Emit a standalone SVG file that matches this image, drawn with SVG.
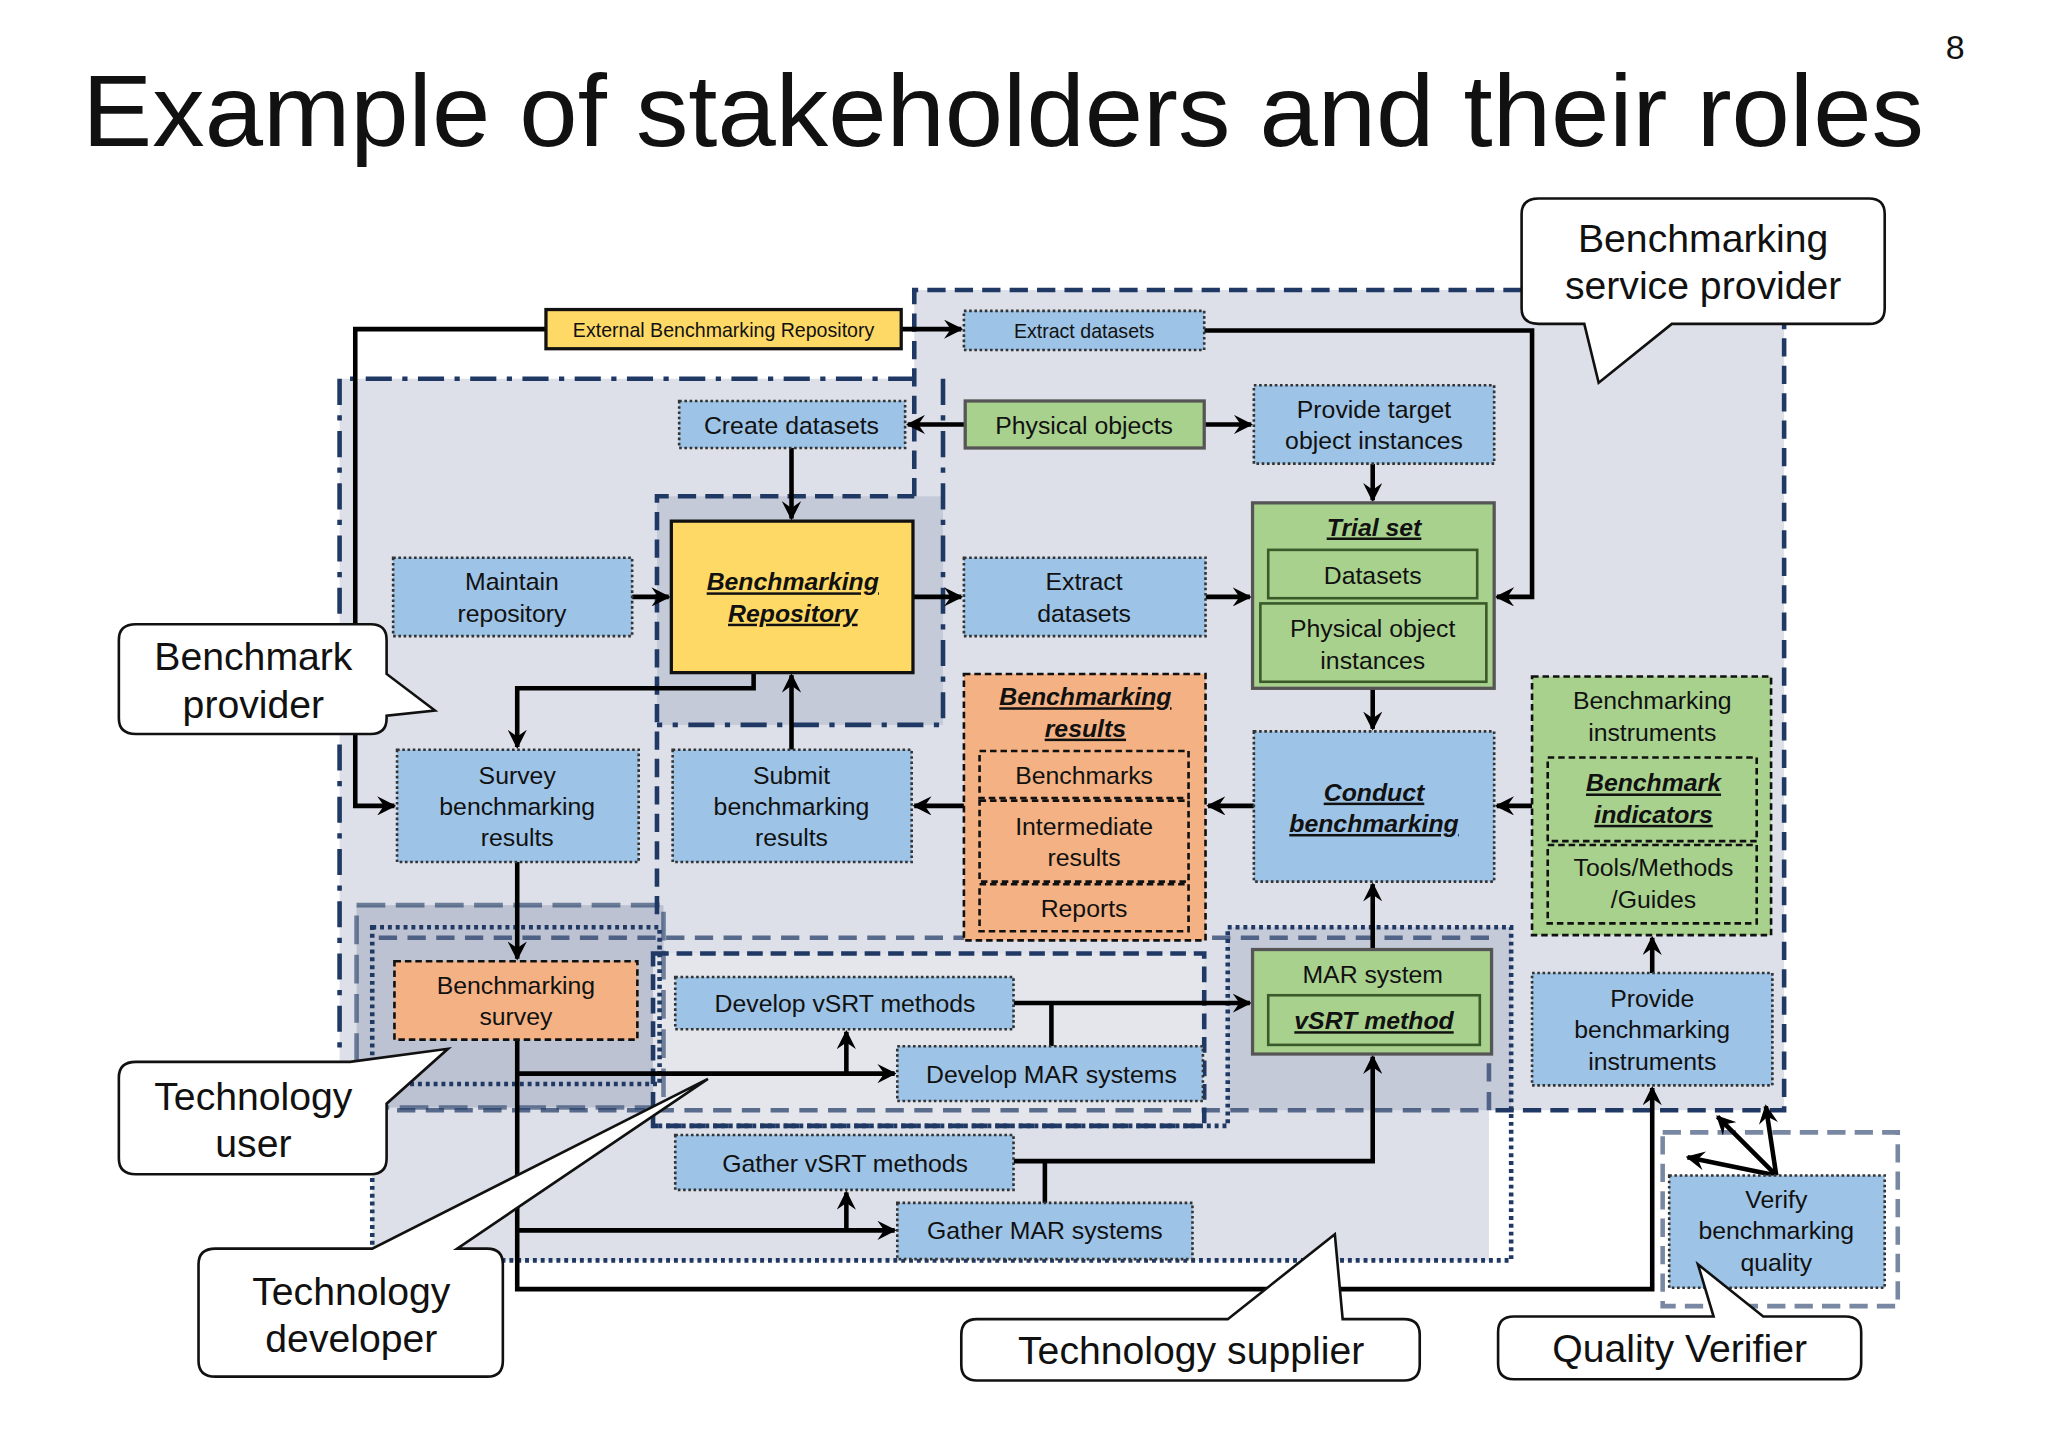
<svg xmlns="http://www.w3.org/2000/svg" width="2048" height="1448" viewBox="0 0 2048 1448">
<defs>
<marker id="ah" viewBox="0 0 10 10" refX="9" refY="5" markerWidth="4.2" markerHeight="4.2" orient="auto" markerUnits="strokeWidth">
<path d="M0,0 L10,5 L0,10 L3.5,5 z" fill="#000"/>
</marker>
<style>
text{font-family:"Liberation Sans",Arial,sans-serif;fill:#111;text-anchor:middle}
.b{fill:#9dc3e6;stroke:#333;stroke-width:2;stroke-dasharray:2 2}
.y{fill:#ffd966;stroke:#111;stroke-width:2.5}
.g{fill:#a9d18e;stroke:#555;stroke-width:2.5}
.gi{fill:#a9d18e;stroke:#3a5a2a;stroke-width:2}
.gd{fill:#a9d18e;stroke:#111;stroke-width:2;stroke-dasharray:5 3}
.o{fill:#f4b183;stroke:#111;stroke-width:2;stroke-dasharray:5 3}
.t{font-size:19px}
.s{font-size:15px}
.bi{font-weight:bold;font-style:italic;text-decoration:underline}
.c{fill:none;stroke:#000;stroke-width:3.5}
.ca{fill:none;stroke:#000;stroke-width:3.5;marker-end:url(#ah)}
.co{fill:#fff;stroke:#111;stroke-width:2}
.ct{font-size:30px}
.reg{fill:none;stroke:#1f3864;stroke-width:3.5}
</style>
</defs>
<rect width="2048" height="1448" fill="#fff"/>
<g transform="scale(1.3061)">
<text x="768" y="112" style="font-size:78px" textLength="1410" lengthAdjust="spacingAndGlyphs">Example of stakeholders and their roles</text>
<text x="1497" y="45" style="font-size:26px">8</text>

<g id="regions">
<path d="M700,222 H1366 V850 H1140 V965 H285 V848 H260 V290 H700 Z" fill="#dde0e8"/>
<rect x="503" y="380" width="219" height="175" fill="#c5cad8"/>
<rect x="273" y="693" width="235" height="155" fill="#b4bacb" opacity="0.8"/>
<rect x="940" y="710" width="217" height="140" fill="#c5cad8"/>
<rect x="500" y="730" width="422" height="132" fill="#e4e6ec"/>
<path class="reg" d="M700,380 V222 H1366 V850 H1140" stroke-dasharray="14 7"/>
<path class="reg" d="M503,700 V380 H700" stroke-dasharray="14 7"/>
<path class="reg" d="M722,290 V555 H503 M700,290 H260 V810" stroke-dasharray="20 8 4 8"/>
<rect class="reg" x="273" y="693" width="235" height="155" stroke-dasharray="22 8" stroke-opacity="0.6"/>
<rect class="reg" x="285" y="710" width="220" height="120" stroke-dasharray="3 3"/>
<rect class="reg" x="500" y="730" width="422" height="132" stroke-dasharray="12 6"/>
<path class="reg" d="M290,718 H1140 V850 H290" stroke-dasharray="14 8" stroke-width="2.5" stroke-opacity="0.7"/>
<path class="reg" d="M285,830 V965 H1157 V710 H940 V862 H500" stroke-dasharray="3 3"/>
<rect class="reg" x="1273" y="867" width="180" height="133" stroke-dasharray="14 7" stroke-opacity="0.6"/>
</g>

<g id="connectors">
<path class="ca" d="M418,252 H272 V617 H302"/>
<path class="ca" d="M690,252 H736"/>
<path class="ca" d="M922,253 H1173 V457 H1146"/>
<path class="ca" d="M739,325 H695"/>
<path class="ca" d="M922,325 H958"/>
<path class="ca" d="M606,343 V397"/>
<path class="ca" d="M484,457 H512"/>
<path class="ca" d="M699,457 H736"/>
<path class="ca" d="M923,457 H957"/>
<path class="ca" d="M1051,355 V383"/>
<path class="ca" d="M1051,527 V558"/>
<path class="ca" d="M577,515 V527 H396 V572"/>
<path class="ca" d="M606,574 V517"/>
<path class="ca" d="M738,617 H700"/>
<path class="ca" d="M960,617 H925"/>
<path class="ca" d="M1173,617 H1146"/>
<path class="ca" d="M1265,745 V718"/>
<path class="ca" d="M1051,727 V677"/>
<path class="ca" d="M396,660 V734"/>
<path class="ca" d="M396,796 V987 H1265 V833"/>
<path class="ca" d="M396,822 H685"/>
<path class="ca" d="M648,822 V790"/>
<path class="ca" d="M776,768 H957"/>
<path class="c" d="M805,801 V768"/>
<path class="ca" d="M396,942 H685"/>
<path class="ca" d="M648,942 V913"/>
<path class="ca" d="M776,889 H1051 V809"/>
<path class="c" d="M800,921 V889"/>
<path class="ca" d="M1360,900 L1292,886"/>
<path class="ca" d="M1360,900 L1315,855"/>
<path class="ca" d="M1360,900 L1352,847"/>
</g>

<g id="n-ext-repo"><rect class="y" x="418" y="237" width="272" height="30"/><text x="554" y="258" class="s">External Benchmarking Repository</text></g>
<g id="n-extract-top"><rect class="b" x="738" y="238" width="184" height="30"/><text x="830" y="259" class="s">Extract datasets</text></g>
<g id="n-create"><rect class="b" x="520" y="307" width="173" height="36"/><text x="606" y="332" class="t">Create datasets</text></g>
<g id="n-physical"><rect class="g" x="739" y="307" width="183" height="36"/><text x="830" y="332" class="t">Physical objects</text></g>
<g id="n-provide-target"><rect class="b" x="960" y="295" width="184" height="60"/><text x="1052" y="320" class="t">Provide target</text><text x="1052" y="344" class="t">object instances</text></g>
<g id="n-maintain"><rect class="b" x="301" y="427" width="183" height="60"/><text x="392" y="452" class="t">Maintain</text><text x="392" y="476" class="t">repository</text></g>
<g id="n-repo"><rect class="y" x="514" y="399" width="185" height="116" stroke-width="3"/><text x="607" y="452" class="t bi">Benchmarking</text><text x="607" y="476" class="t bi">Repository</text></g>
<g id="n-extract-mid"><rect class="b" x="738" y="427" width="185" height="60"/><text x="830" y="452" class="t">Extract</text><text x="830" y="476" class="t">datasets</text></g>
<g id="n-trial"><rect class="g" x="959" y="385" width="185" height="142"/><text x="1052" y="410" class="t bi">Trial set</text>
<rect class="gi" x="971" y="421" width="160" height="37" stroke-width="3"/><text x="1051" y="447" class="t">Datasets</text>
<rect class="gi" x="965" y="462" width="173" height="60" stroke-width="3"/><text x="1051" y="488" class="t">Physical object</text><text x="1051" y="512" class="t">instances</text></g>
<g id="n-results"><rect class="o" x="738" y="516" width="185" height="204"/><text x="831" y="540" class="t bi">Benchmarking</text><text x="831" y="564" class="t bi">results</text>
<rect class="o" x="750" y="575" width="160" height="36"/><text x="830" y="600" class="t">Benchmarks</text>
<rect class="o" x="750" y="613" width="160" height="62"/><text x="830" y="639" class="t">Intermediate</text><text x="830" y="663" class="t">results</text>
<rect class="o" x="750" y="677" width="160" height="36"/><text x="830" y="702" class="t">Reports</text></g>
<g id="n-survey-results"><rect class="b" x="304" y="574" width="185" height="86"/><text x="396" y="600" class="t">Survey</text><text x="396" y="624" class="t">benchmarking</text><text x="396" y="648" class="t">results</text></g>
<g id="n-submit"><rect class="b" x="515" y="574" width="183" height="86"/><text x="606" y="600" class="t">Submit</text><text x="606" y="624" class="t">benchmarking</text><text x="606" y="648" class="t">results</text></g>
<g id="n-conduct"><rect class="b" x="960" y="560" width="184" height="115"/><text x="1052" y="613" class="t bi">Conduct</text><text x="1052" y="637" class="t bi">benchmarking</text></g>
<g id="n-instruments"><rect class="gd" x="1173" y="518" width="183" height="198"/><text x="1265" y="543" class="t">Benchmarking</text><text x="1265" y="567" class="t">instruments</text>
<rect class="gd" x="1185" y="580" width="160" height="64"/><text x="1266" y="606" class="t bi">Benchmark</text><text x="1266" y="630" class="t bi">indicators</text>
<rect class="gd" x="1185" y="647" width="160" height="60"/><text x="1266" y="671" class="t">Tools/Methods</text><text x="1266" y="695" class="t">/Guides</text></g>
<g id="n-survey"><rect class="o" x="302" y="736" width="186" height="60"/><text x="395" y="761" class="t">Benchmarking</text><text x="395" y="785" class="t">survey</text></g>
<g id="n-dev-vsrt"><rect class="b" x="517" y="748" width="259" height="40"/><text x="647" y="775" class="t">Develop vSRT methods</text></g>
<g id="n-dev-mar"><rect class="b" x="687" y="801" width="234" height="42"/><text x="805" y="829" class="t">Develop MAR systems</text></g>
<g id="n-mar"><rect class="g" x="959" y="727" width="183" height="80"/><text x="1051" y="753" class="t">MAR system</text>
<rect class="gi" x="971" y="762" width="162" height="38" stroke-width="3"/><text x="1052" y="788" class="t bi">vSRT method</text></g>
<g id="n-provide-instr"><rect class="b" x="1173" y="745" width="184" height="86"/><text x="1265" y="771" class="t">Provide</text><text x="1265" y="795" class="t">benchmarking</text><text x="1265" y="819" class="t">instruments</text></g>
<g id="n-gather-vsrt"><rect class="b" x="517" y="869" width="259" height="42"/><text x="647" y="897" class="t">Gather vSRT methods</text></g>
<g id="n-gather-mar"><rect class="b" x="687" y="921" width="226" height="43"/><text x="800" y="949" class="t">Gather MAR systems</text></g>
<g id="n-verify"><rect class="b" x="1278" y="900" width="165" height="86"/><text x="1360" y="925" class="t">Verify</text><text x="1360" y="949" class="t">benchmarking</text><text x="1360" y="973" class="t">quality</text></g>

<g id="callout-bsp"><path class="co" d="M1178,152 H1431 Q1443,152 1443,164 V236 Q1443,248 1431,248 H1280 L1224,293 L1213,248 H1178 Q1165,248 1165,236 V164 Q1165,152 1178,152 Z"/><text x="1304" y="193" class="ct">Benchmarking</text><text x="1304" y="229" class="ct">service provider</text></g>
<g id="callout-bp"><path class="co" d="M104,478 H284 Q296,478 296,490 V516 L333,544 L296,548 V550 Q296,562 284,562 H104 Q91,562 91,550 V490 Q91,478 104,478 Z"/><text x="194" y="513" class="ct">Benchmark</text><text x="194" y="550" class="ct">provider</text></g>
<g id="callout-tu"><path class="co" d="M104,813 H268 L343,803 L296,845 V887 Q296,899 284,899 H104 Q91,899 91,887 V825 Q91,813 104,813 Z"/><text x="194" y="850" class="ct">Technology</text><text x="194" y="886" class="ct">user</text></g>
<g id="callout-td"><path class="co" d="M165,956 H285 L542,826 L350,956 H373 Q385,956 385,968 V1042 Q385,1054 373,1054 H165 Q152,1054 152,1042 V968 Q152,956 165,956 Z"/><text x="269" y="999" class="ct">Technology</text><text x="269" y="1035" class="ct">developer</text></g>
<g id="callout-ts"><path class="co" d="M748,1010 H940 L1022,945 L1028,1010 H1075 Q1087,1010 1087,1022 V1045 Q1087,1057 1075,1057 H748 Q736,1057 736,1045 V1022 Q736,1010 748,1010 Z"/><text x="912" y="1044" class="ct">Technology supplier</text></g>
<g id="callout-qv"><path class="co" d="M1159,1008 H1312 L1300,968 L1350,1008 H1413 Q1425,1008 1425,1020 V1044 Q1425,1056 1413,1056 H1159 Q1147,1056 1147,1044 V1020 Q1147,1008 1159,1008 Z"/><text x="1286" y="1043" class="ct">Quality Verifier</text></g>
</g>
</svg>
